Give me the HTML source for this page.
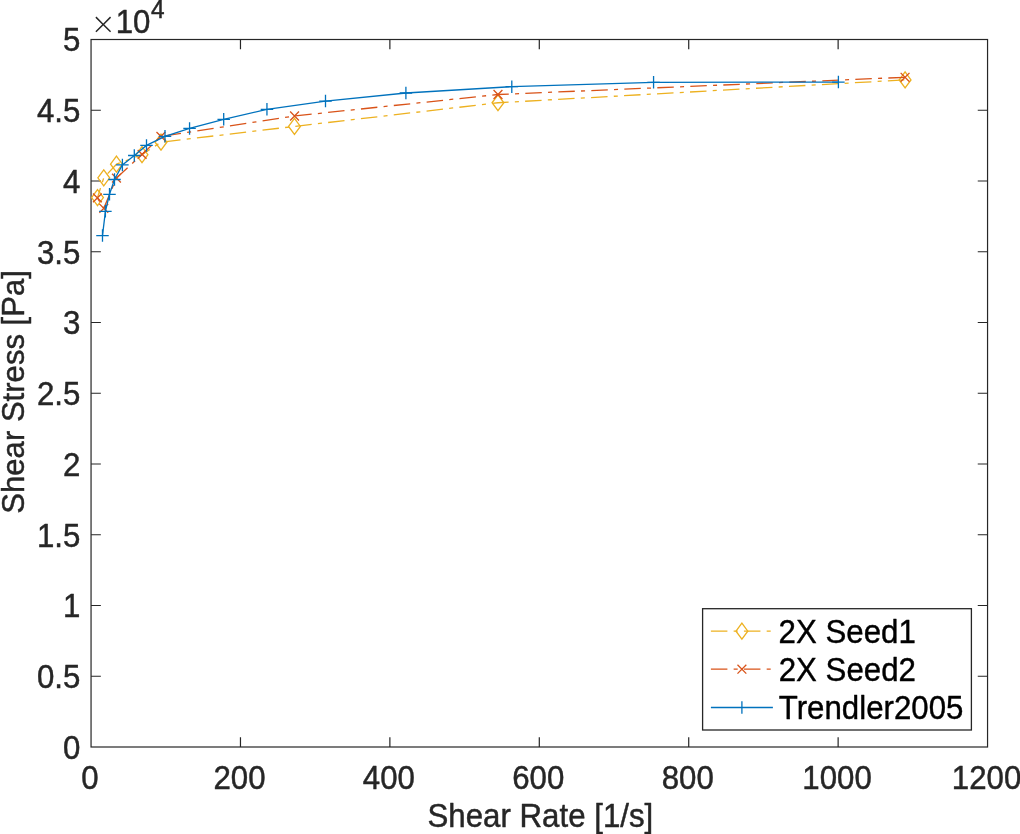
<!DOCTYPE html>
<html><head><meta charset="utf-8"><title>Shear Stress vs Shear Rate</title>
<style>html,body{margin:0;padding:0;background:#fff}svg{display:block}text{font-family:"Liberation Sans",Arial,Helvetica,sans-serif}</style></head><body>
<svg width="1020" height="834" viewBox="0 0 1020 834">
<rect x="0" y="0" width="1020" height="834" fill="#fff"/>
<g stroke="#262626" stroke-width="1.2" fill="none" stroke-linecap="butt">
<rect x="91.05" y="39.5" width="896.50" height="707.50"/>
<path d="M240.47 747.0V737.20M240.47 39.5V49.30M389.88 747.0V737.20M389.88 39.5V49.30M539.30 747.0V737.20M539.30 39.5V49.30M688.72 747.0V737.20M688.72 39.5V49.30M838.13 747.0V737.20M838.13 39.5V49.30M91.05 676.25H100.85M987.55 676.25H977.75M91.05 605.50H100.85M987.55 605.50H977.75M91.05 534.75H100.85M987.55 534.75H977.75M91.05 464.00H100.85M987.55 464.00H977.75M91.05 393.25H100.85M987.55 393.25H977.75M91.05 322.50H100.85M987.55 322.50H977.75M91.05 251.75H100.85M987.55 251.75H977.75M91.05 181.00H100.85M987.55 181.00H977.75M91.05 110.25H100.85M987.55 110.25H977.75"/>
</g>
<g fill="#262626" stroke="#262626" stroke-width="0.45" stroke-linejoin="round" font-size="31.25px">
<text transform="translate(90.05 788.90) scale(1 1.035)" text-anchor="middle">0</text>
<text transform="translate(239.47 788.90) scale(1 1.035)" text-anchor="middle">200</text>
<text transform="translate(388.88 788.90) scale(1 1.035)" text-anchor="middle">400</text>
<text transform="translate(538.30 788.90) scale(1 1.035)" text-anchor="middle">600</text>
<text transform="translate(687.72 788.90) scale(1 1.035)" text-anchor="middle">800</text>
<text transform="translate(837.13 788.90) scale(1 1.035)" text-anchor="middle">1000</text>
<text transform="translate(986.55 788.90) scale(1 1.035)" text-anchor="middle">1200</text>
<text transform="translate(80.40 758.80) scale(1 1.035)" text-anchor="end">0</text>
<text transform="translate(80.40 688.05) scale(1 1.035)" text-anchor="end">0.5</text>
<text transform="translate(80.40 617.30) scale(1 1.035)" text-anchor="end">1</text>
<text transform="translate(80.40 546.55) scale(1 1.035)" text-anchor="end">1.5</text>
<text transform="translate(80.40 475.80) scale(1 1.035)" text-anchor="end">2</text>
<text transform="translate(80.40 405.05) scale(1 1.035)" text-anchor="end">2.5</text>
<text transform="translate(80.40 334.30) scale(1 1.035)" text-anchor="end">3</text>
<text transform="translate(80.40 263.55) scale(1 1.035)" text-anchor="end">3.5</text>
<text transform="translate(80.40 192.80) scale(1 1.035)" text-anchor="end">4</text>
<text transform="translate(80.40 122.05) scale(1 1.035)" text-anchor="end">4.5</text>
<text transform="translate(80.40 51.30) scale(1 1.035)" text-anchor="end">5</text>
<text x="90.42" y="34.0" font-size="30.4px" stroke="none" style="font-family:'DejaVu Sans Light','DejaVu Sans',sans-serif;font-weight:200">×</text>
<text transform="translate(115.70 32.90) scale(1 1.035)">10</text>
<text transform="translate(151.00 17.90) scale(1 1.035)" font-size="24.4px">4</text>
<text transform="translate(540.40 827.20) scale(1 1.035)" text-anchor="middle">Shear Rate [1/s]</text>
<text transform="translate(24.10 391.90) rotate(-90) scale(1 1.035)" text-anchor="middle" font-size="31.1px">Shear Stress [Pa]</text>
</g>
<g stroke="#EDB120" stroke-width="1.3" fill="none" stroke-linejoin="round">
<polyline points="97.5,197.6 103.75,177.8 116.45,164.2 142.0,154.65 161.0,142.2 294.46,126.4 497.98,102.76 905.1,79.9" stroke-dasharray="16.5 6.25 4.03 6.25" stroke-dashoffset="6.59"/>
<path d="M91.60 197.6L97.5 189.60L103.40 197.6L97.5 205.60ZM97.85 177.8L103.75 169.80L109.65 177.8L103.75 185.80ZM110.55 164.2L116.45 156.20L122.35 164.2L116.45 172.20ZM136.10 154.65L142.0 146.65L147.90 154.65L142.0 162.65ZM155.10 142.2L161.0 134.20L166.90 142.2L161.0 150.20ZM288.56 126.4L294.46 118.40L300.36 126.4L294.46 134.40ZM492.08 102.76L497.98 94.76L503.88 102.76L497.98 110.76ZM899.20 79.9L905.1 71.90L911.00 79.9L905.1 87.90Z" stroke-linejoin="miter"/>
</g>
<g stroke="#D95319" stroke-width="1.3" fill="none">
<polyline points="97.4,197.85 103.8,208.3 116.45,178.1 142.1,154.4 160.9,136.4 294.55,116.0 497.98,94.5 905.06,77.3" stroke-dasharray="16.5 6.25 4.03 6.25" stroke-dashoffset="22.39"/>
<path d="M92.98 193.43L101.82 202.27M92.98 202.27L101.82 193.43M99.38 203.88L108.22 212.72M99.38 212.72L108.22 203.88M112.03 173.68L120.87 182.52M112.03 182.52L120.87 173.68M137.68 149.98L146.52 158.82M137.68 158.82L146.52 149.98M156.48 131.98L165.32 140.82M156.48 140.82L165.32 131.98M290.13 111.58L298.97 120.42M290.13 120.42L298.97 111.58M493.56 90.08L502.40 98.92M493.56 98.92L502.40 90.08M900.64 72.88L909.48 81.72M900.64 81.72L909.48 72.88"/>
</g>
<g stroke="#0072BD" stroke-width="1.3" fill="none">
<polyline points="102.49,235.55 105.4,211.3 109.5,194.3 114.5,179.5 122.4,164.9 134.3,155.5 146.5,145.4 165.0,136.35 189.56,128.42 223.7,119.36 266.95,109.35 325.5,101.1 405.9,93.0 511.8,86.65 653.57,82.3 838.4,82.1"/>
<path d="M96.24 235.55H108.74M102.49 229.30V241.80M99.15 211.3H111.65M105.4 205.05V217.55M103.25 194.3H115.75M109.5 188.05V200.55M108.25 179.5H120.75M114.5 173.25V185.75M116.15 164.9H128.65M122.4 158.65V171.15M128.05 155.5H140.55M134.3 149.25V161.75M140.25 145.4H152.75M146.5 139.15V151.65M158.75 136.35H171.25M165.0 130.10V142.60M183.31 128.42H195.81M189.56 122.17V134.67M217.45 119.36H229.95M223.7 113.11V125.61M260.70 109.35H273.20M266.95 103.10V115.60M319.25 101.1H331.75M325.5 94.85V107.35M399.65 93.0H412.15M405.9 86.75V99.25M505.55 86.65H518.05M511.8 80.40V92.90M647.32 82.3H659.82M653.57 76.05V88.55M832.15 82.1H844.65M838.4 75.85V88.35"/>
</g>
<rect x="702.6" y="608.7" width="268.80" height="121.30" fill="#fff" stroke="#262626" stroke-width="1.3"/>
<g fill="none" stroke-width="1.3">
<path d="M710.9 631.2H772.9" stroke="#EDB120" stroke-dasharray="16.5 6.25 4.03 6.25"/>
<path d="M736.00 631.2L741.9 623.20L747.80 631.2L741.9 639.20Z" stroke="#EDB120"/>
<path d="M710.9 669.2H772.9" stroke="#D95319" stroke-dasharray="16.5 6.25 4.03 6.25"/>
<path d="M737.48 664.78L746.32 673.62M737.48 673.62L746.32 664.78" stroke="#D95319"/>
<path d="M710.9 707.5H772.9M741.9 701.25V713.75" stroke="#0072BD"/>
</g>
<g fill="#000" stroke="#000" stroke-width="0.4" stroke-linejoin="round" font-size="31.25px">
<text transform="translate(778.60 642.90) scale(1 1.035)">2X Seed1</text>
<text transform="translate(778.70 680.90) scale(1 1.035)">2X Seed2</text>
<text transform="translate(778.75 719.00) scale(1 1.035)">Trendler2005</text>
</g>
</svg></body></html>
